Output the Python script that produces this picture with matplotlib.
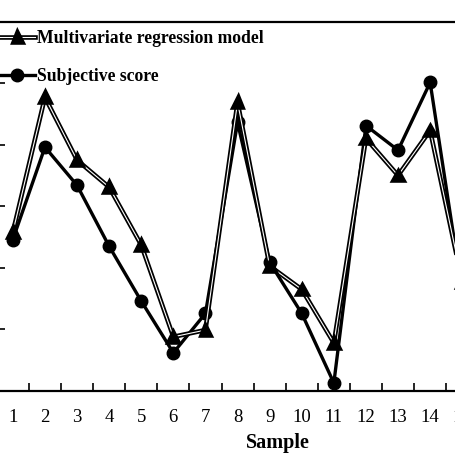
import matplotlib
matplotlib.use("Agg")
import matplotlib.pyplot as plt
import matplotlib.patheffects as pe

plt.rcParams['font.family'] = ['Liberation Serif', 'DejaVu Serif']

samples = list(range(1, 16))
regression = [2.58, 4.77, 3.75, 3.31, 2.37, 0.88, 0.99, 4.69, 2.03, 1.65, 0.78, 4.10, 3.50, 4.23, 1.77]
subjective = [2.46, 3.96, 3.34, 2.35, 1.46, 0.62, 1.26, 4.36, 2.09, 1.26, 0.13, 4.31, 3.91, 5.01, 1.60]
tick_labels = [str(s) for s in samples]
series_names = ["Multivariate regression model", "Subjective score"]

fig = plt.figure(figsize=(4.55, 4.55), dpi=100)
ax = fig.add_axes([-3.2 / 455, 64 / 455, 481.5 / 455, 369.5 / 455])

l2, = ax.plot(samples, subjective, color='black', lw=2.4, marker='o', ms=9,
              markerfacecolor='black', markeredgecolor='black', label=series_names[1], zorder=3)
l1, = ax.plot(samples, regression, color='white', lw=0.8, marker='^', ms=7,
              markerfacecolor='black', markeredgecolor='black', label=series_names[0], zorder=4,
              path_effects=[pe.Stroke(linewidth=3.3, foreground='black'), pe.Normal()])

ax.set_xlim(0.5, 15.5)
ax.set_ylim(0, 6)
ax.set_yticks(range(0, 7))
ax.set_yticklabels([])
ax.set_xticks(samples)
ax.set_xticklabels(tick_labels, fontsize=13.5)
ax.set_xticks([s + 0.5 for s in samples], minor=True)
ax.tick_params(axis='x', which='major', length=0, pad=13)
ax.tick_params(axis='x', which='minor', direction='in', length=6, width=1.2)
ax.tick_params(axis='y', which='major', direction='in', length=6, width=1.2)
for sp in ax.spines.values():
    sp.set_linewidth(1.6)

ax.set_xlabel("Sample", fontsize=14.5, fontweight='bold')
ax.xaxis.set_label_coords(281.2 / 481.5, -0.113)

leg = ax.legend(handles=[l1, l2], loc='upper left', bbox_to_anchor=(0.007, 0.977),
                frameon=False, prop={'weight': 'bold', 'size': 12.7},
                handlelength=1.95, handletextpad=0.15, labelspacing=1.2,
                borderpad=0, borderaxespad=0)

fig.savefig("out.png", dpi=100)
